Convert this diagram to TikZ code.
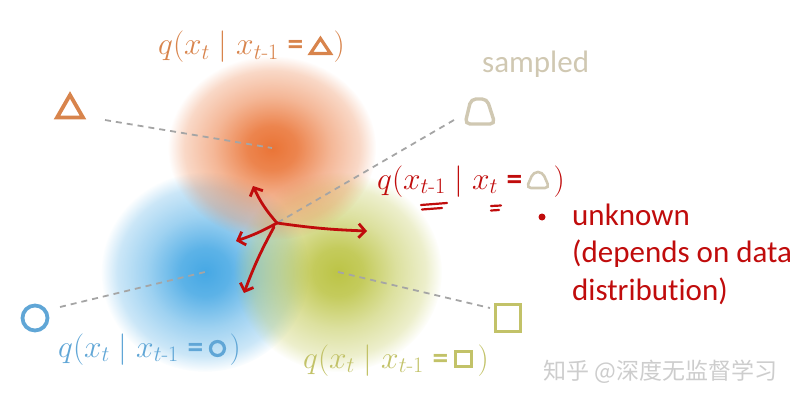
\RequirePackage{fix-cm}
\documentclass[tikz,border=0pt]{standalone}
\usepackage{amsmath}
\usepackage{fontspec}
\newfontfamily\carlito[Ligatures=NoCommon]{Carlito}
\newfontfamily\cjkfont{Noto Sans CJK SC}
\usetikzlibrary{fadings,arrows.meta,calc,shapes.geometric}
\definecolor{corange}{RGB}{234,116,54}
\definecolor{cblue}{RGB}{70,168,228}
\definecolor{cgreen}{RGB}{188,196,70}
\definecolor{torange}{RGB}{216,132,76}
\definecolor{tblue}{RGB}{96,166,214}
\definecolor{tgreen}{RGB}{194,194,104}
\definecolor{cred}{RGB}{192,12,12}
\definecolor{csamp}{RGB}{208,200,178}
\definecolor{cdash}{RGB}{165,165,165}
\definecolor{cwm}{RGB}{205,205,205}
\pgfdeclareradialshading{blobshade}{\pgfpointorigin}{color(0bp)=(white); color(6bp)=(white!88!black); color(14bp)=(white!52!black); color(21bp)=(white!28!black); color(25bp)=(black); color(50bp)=(black)}
\pgfdeclarefading{blob}{\pgfuseshading{blobshade}}
\newcommand{\eqsign}{{\carlito\bfseries =}}
\begin{document}
\begin{tikzpicture}[x=1pt,y=-1pt,
  lbl/.style={inner sep=0pt, anchor=base west, font=\fontsize{31.5}{37}\selectfont},
  dashline/.style={cdash, line width=1.8, dash pattern=on 6pt off 5pt},
  redarrow/.style={cred, line width=2.8, line cap=round, -{Straight Barb[length=6.5pt,width=14pt,line width=2.8pt]}},
  bigsym/.style={line width=3.8},
  smallsym/.style={line width=3.2}]
\useasboundingbox (0,0) rectangle (805,404);
% blobs
\coordinate (bc) at (205,272);
\coordinate (gc) at (338,272);
\coordinate (oc) at (272,148);
\coordinate (hub) at (277,223);
\fill[cblue, path fading=blob] (bc) ellipse [x radius=104, y radius=100];
\fill[cgreen, path fading=blob] (gc) ellipse [x radius=104, y radius=100];
\fill[corange, path fading=blob] (oc) ellipse [x radius=104, y radius=92];
% shapes
\node[regular polygon, regular polygon sides=3, draw=torange, bigsym, inner sep=0pt, minimum size=30] (tri) at (70,110) {};
\node[circle, draw=tblue, bigsym, inner sep=0pt, minimum size=25] (circ) at (35,318) {};
\node[rectangle, draw=tgreen, bigsym, inner sep=0pt, minimum width=25, minimum height=27] (sq) at (508,318) {};
\draw[csamp, line width=3.4, rounded corners=5] (471,99) -- (487,99) -- (495,124) -- (465,124) -- cycle;
\node[anchor=base west, inner sep=0pt, text=csamp, font=\carlito\fontsize{31}{37}\selectfont] (sampled) at (482,73) {sampled};
% dashed lines
\coordinate (d1) at (105,120);
\coordinate (d2) at (454,120);
\coordinate (d3) at (60,307);
\coordinate (d4) at (490,308);
\draw[dashline] (d1) -- (oc);
\draw[dashline] (d2) -- (hub);
\draw[dashline] (d3) -- (bc);
\draw[dashline] (gc) -- (d4);
% red arrows
\coordinate (a1) at (253,186);
\coordinate (a2) at (367,231);
\coordinate (a3) at (236,241);
\coordinate (a4) at (244,293);
\draw[redarrow] (hub) to[bend left=8] (a1);
\draw[redarrow] (hub) to[bend right=3] (a2);
\draw[redarrow] (hub) to[bend left=5] (a3);
\draw[redarrow] ($(hub)+(-3,4)$) to[bend right=4] (a4);
% orange label
\node[lbl, text=torange] (lo) at (158,55) {$q(x_t\mid x_{t\text{-}1}$\;\eqsign};
\draw[torange, smallsym] ($(lo.base east)+(7,-1.5)$) -- ++(20,0) -- ++(-10,-15) -- cycle;
\node[lbl, text=torange] (lo2) at ($(lo.base east)+(30,0)$) {$)$};
% red label
\node[lbl, text=cred] (lr) at (377,189) {$q(x_{t\text{-}1}\mid x_t$\;\eqsign};
\draw[csamp, line width=2.6, rounded corners=4.5] ($(lr.base east)+(11,-17)$) -- ++(9,0) -- ++(7,16) -- ++(-23,0) -- cycle;
\node[lbl, text=cred] (lr2) at ($(lr.base east)+(31,0)$) {$)$};
\draw[cred, line width=2.2, line cap=round] (421,205) -- (447,203);
\draw[cred, line width=2.2, line cap=round] (422,209.5) -- (442,208);
\draw[cred, line width=2.2, line cap=round] (491,206) -- (501,205.5);
\draw[cred, line width=2.2, line cap=round] (491,210.5) -- (499,210);
% blue label
\node[lbl, text=tblue] (lb) at (58,357) {$q(x_t\mid x_{t\text{-}1}$\;\eqsign};
\draw[tblue, smallsym] ($(lb.base east)+(14,-8.5)$) circle (7);
\node[lbl, text=tblue] (lb2) at ($(lb.base east)+(26,0)$) {$)$};
% green label
\node[lbl, text=tgreen] (lg) at (303,368) {$q(x_t\mid x_{t\text{-}1}$\;\eqsign};
\draw[tgreen, smallsym] ($(lg.base east)+(7,-1.5)$) rectangle ++(16,-15);
\node[lbl, text=tgreen] (lg2) at ($(lg.base east)+(29,0)$) {$)$};
% bullet text
\node[circle, fill=cred, inner sep=0pt, minimum size=7] (bul) at (542,217) {};
\node[anchor=base west, inner sep=0pt, text=cred, align=left, font=\carlito\fontsize{31}{37.5}\selectfont] (bt) at (572,300) {unknown\\(depends on data\\distribution)};
% watermark
\node[anchor=west, inner sep=0pt, text=cwm, font=\cjkfont\fontsize{23}{23}\selectfont] (wm) at (543,372) {知乎 @深度无监督学习};
\end{tikzpicture}
\end{document}
